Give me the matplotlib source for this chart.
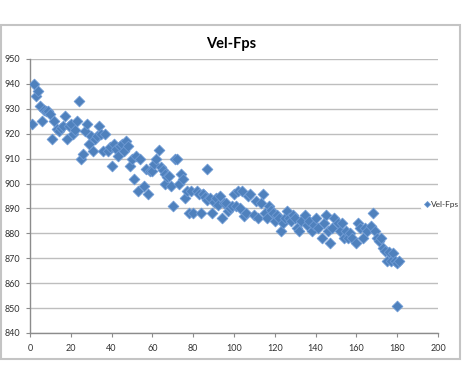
import matplotlib
matplotlib.use("Agg")
import matplotlib.pyplot as plt
from matplotlib.patches import Rectangle

plt.rcParams['font.family'] = ['Lato', 'DejaVu Sans']

title = "Vel-Fps"
series_name = "Vel-Fps"

x_vals = [1, 2, 3, 4, 5, 6, 7, 8, 9, 10,
          11, 12, 13, 14, 15, 16, 17, 18, 19, 20,
          21, 22, 23, 24, 25, 26, 27, 28, 29, 30,
          31, 32, 33, 34, 35, 36, 37, 38, 39, 40,
          41, 42, 43, 44, 45, 46, 47, 48, 49, 50,
          51, 52, 53, 54, 56, 57, 58, 59, 60, 61,
          62, 63, 64, 65, 66, 66, 67, 68, 69, 70,
          71, 72, 73, 74, 75, 76, 77, 78, 79, 80,
          82, 83, 84, 85, 85, 86, 87, 87, 88, 89,
          90, 91, 92, 93, 94, 95, 96, 97, 98, 99,
          100, 101, 102, 103, 104, 105, 106, 107, 108, 110,
          111, 112, 113, 114, 115, 116, 117, 118, 119, 120,
          121, 122, 123, 124, 125, 126, 127, 128, 129, 130,
          131, 132, 133, 135, 136, 137, 138, 139, 140, 141,
          143, 144, 145, 146, 147, 148, 149, 151, 152, 153,
          154, 155, 156, 157, 158, 160, 161, 162, 163, 164,
          165, 167, 168, 169, 170, 171, 172, 173, 174, 175,
          176, 177, 178, 179, 180, 181, 180]

y_vals = [924, 940, 935, 937, 931, 925, 929.5, 929, 929, 928,
          918, 925, 922, 921, 922.5, 923, 927, 918, 923, 924,
          920, 921.5, 925, 933, 910, 912, 921, 924, 916, 919,
          913, 918, 919, 923, 920, 913, 920, 913, 914.5, 907,
          916, 914, 911, 915, 916, 913, 917, 915, 907, 910,
          902, 911, 897, 910, 899, 906, 896, 905, 905, 908,
          910, 913.5, 906.5, 905.5, 900, 904, 902.5, 903, 899, 891,
          910, 910, 900, 904, 902, 894, 897, 888, 897, 888,
          897, 896, 888, 896, 896, 894.5, 906, 893.5, 894, 888,
          892.5, 894, 891.5, 895, 886, 892, 892, 889, 890, 891,
          896, 891, 897, 890, 897, 887, 888, 895, 896, 887.5,
          893, 886, 892, 896, 888, 886, 891, 889.5, 888, 885,
          887.5, 886, 881, 884, 886, 889, 886, 885, 887.5, 886,
          882, 881, 885, 887.5, 883.5, 885, 881, 883.5, 886, 882,
          878, 884, 887.5, 881, 876, 882, 886, 884, 881, 884,
          878, 881, 878, 880, 878, 876, 884, 882, 878, 882,
          881, 883, 888, 881, 878, 877, 878, 874, 873, 869,
          872.5, 869, 872, 869, 868, 869, 851]

x_ticks = [0, 20, 40, 60, 80, 100, 120, 140, 160, 180, 200]
y_ticks = [840, 850, 860, 870, 880, 890, 900, 910, 920, 930, 940, 950]

W, H = 474, 380
fig = plt.figure(figsize=(W / 100, H / 100), dpi=100)
fig.patch.set_facecolor('white')

# outer chart frame
fig.patches.append(Rectangle((1 / W, 1 - 359 / H), 459 / W, 334 / H,
                             transform=fig.transFigure, fill=False,
                             edgecolor='#C4C4C4', linewidth=1.5, zorder=0))

ax = fig.add_axes([30 / W, 1 - 333 / H, 408 / W, 274 / H])
ax.set_facecolor('white')

ax.scatter(x_vals, y_vals, marker='D', s=30, color='#4F81BD',
           edgecolors='#6E9AD4', linewidths=0.6, zorder=3, label=series_name)

ax.set_xlim(0, 200)
ax.set_ylim(840, 950)
ax.set_xticks(x_ticks)
ax.set_yticks(y_ticks)
ax.set_xticklabels([str(t) for t in x_ticks])
ax.set_yticklabels([str(t) for t in y_ticks])
ax.yaxis.grid(True, color='#BEBEBE', linewidth=1.0, zorder=0)
ax.set_axisbelow(True)
for s in ['top', 'right']:
    ax.spines[s].set_visible(False)
for s in ['left', 'bottom']:
    ax.spines[s].set_color('#8C8C8C')
    ax.spines[s].set_linewidth(1.0)
ax.tick_params(axis='both', labelsize=6.5, colors='#8C8C8C', labelcolor='#333333',
               length=3, width=0.8, direction='out')
ax.tick_params(axis='x', pad=5)
ax.tick_params(axis='y', pad=4)

fig.text(231 / W, 1 - 44 / H, title, ha='center', va='center',
         fontsize=10.5, fontweight='bold', color='#000000')

leg = ax.legend(loc='center left', bbox_to_anchor=(417 / W, 1 - 204 / H),
                bbox_transform=fig.transFigure, frameon=True, fontsize=6,
                handletextpad=0.1, handlelength=0.8, borderpad=0.3,
                markerscale=0.55, scatterpoints=1)
leg.get_frame().set_facecolor('white')
leg.get_frame().set_edgecolor('none')
leg.get_frame().set_alpha(1)
for t in leg.get_texts():
    t.set_color('#333333')

fig.savefig('out.png', dpi=100, facecolor='white')
